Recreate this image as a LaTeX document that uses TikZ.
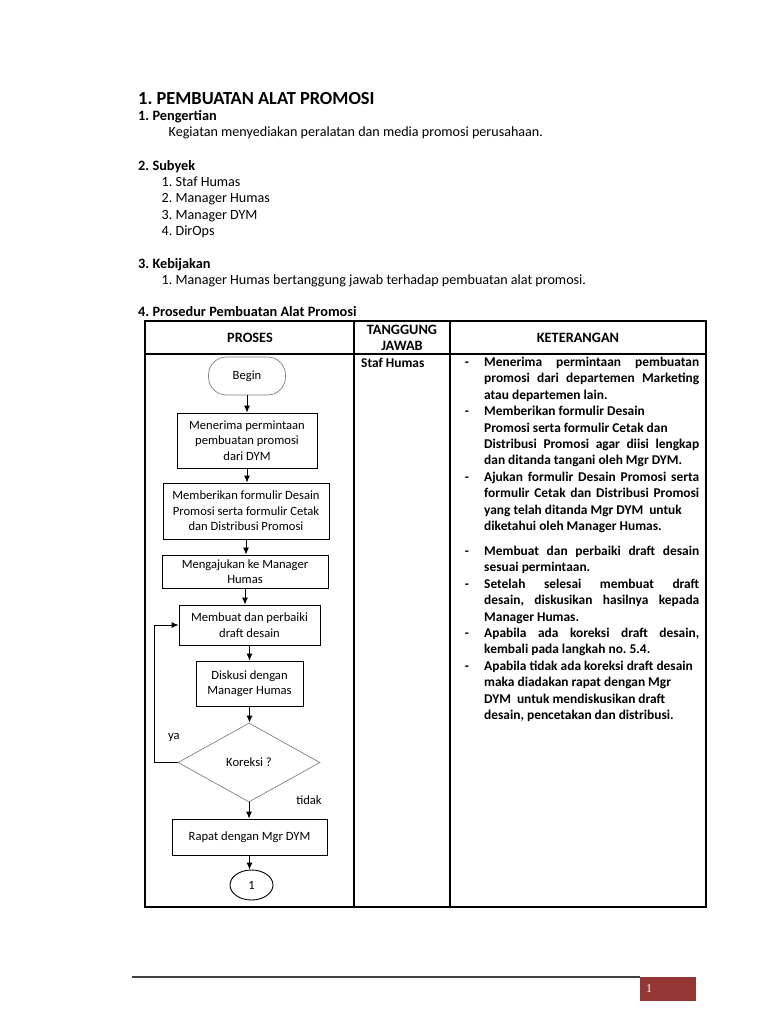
\documentclass[tikz,border=0pt]{standalone}
\usepackage{fontspec}
\setmainfont{Carlito}
\newfontfamily\pgnumfont{Liberation Serif}
\usetikzlibrary{arrows.meta,shapes.geometric}
\definecolor{pgred}{HTML}{943634}
\frenchspacing
\newcommand{\tsize}{\fontsize{18.4}{21}\selectfont}
\newcommand{\bsize}{\fontsize{14.3}{16.4}\selectfont}
\newcommand{\rsize}{\fontsize{14.1}{16.4}\selectfont}
\newcommand{\ksize}{\fontsize{13.4}{16.4}\selectfont}
\newcommand{\fsize}{\fontsize{12.6}{15.4}\selectfont}

\begin{document}
\begin{tikzpicture}[x=1pt,y=-1pt,
		>={Latex[length=7pt,width=6pt]},
		hd/.style={anchor=base west,inner sep=0pt,font=\bsize\bfseries},
		tx/.style={anchor=base west,inner sep=0pt,font=\rsize},
		th/.style={inner sep=0pt,align=center,font=\bsize\bfseries},
		ket/.style={anchor=base west,inner sep=0pt,text width=215pt,align=justify,font=\ksize\bfseries},
		dsh/.style={anchor=base,inner sep=0pt,font=\ksize\bfseries},
		proc/.style={draw=black,line width=0.9pt,align=center,inner sep=0pt,font=\fsize},
		flow/.style={->,line width=0.9pt},
		tbl/.style={line width=1.1pt}
	]
		\useasboundingbox (0,0) rectangle (768,1024);
		% heading and sections
		\node[anchor=base west,inner sep=0pt,font=\tsize\bfseries] (title) at (138,105) {1. PEMBUATAN ALAT PROMOSI};
		\node[hd] (s1) at (138,121) {1. Pengertian};
		\node[tx] (s1a) at (168.5,137) {Kegiatan menyediakan peralatan dan media promosi perusahaan.};
		\node[hd] (s2) at (138,170.5) {2. Subyek};
		\node[tx] (s2a) at (161.5,186.5) {1. Staf Humas};
		\node[tx] (s2b) at (161.5,202.8) {2. Manager Humas};
		\node[tx] (s2c) at (161.5,219) {3. Manager DYM};
		\node[tx] (s2d) at (161.5,235.3) {4. DirOps};
		\node[hd] (s3) at (138,268) {3. Kebijakan};
		\node[tx] (s3a) at (161.5,284.3) {1. Manager Humas bertanggung jawab terhadap pembuatan alat promosi.};
		\node[hd] (s4) at (138,316.5) {4. Prosedur Pembuatan Alat Promosi};

		% table
		\draw[tbl] (145,321) rectangle (706,907);
		\draw[tbl] (145,354) -- (706,354);
		\draw[tbl] (354,321) -- (354,907);
		\draw[tbl] (450,321) -- (450,907);
		\node[th] (hproc) at (250,338) {PROSES};
		\node[th] (hjwb) at (402,338) {TANGGUNG\\JAWAB};
		\node[th] (hket) at (578,338) {KETERANGAN};
		\node[hd,font=\ksize\bfseries] (staf) at (361,367.5) {Staf Humas};

		% keterangan
		\foreach \y [count=\i] in {366.5,415.7,481.3,555.5,588.3,637.5,670.3}
			\node[dsh] (d\i) at (467,\y) {-};
		\node[ket] (k1) at (484,366.5) {Menerima permintaan pembuatan\linebreak
			promosi dari departemen Marketing\linebreak atau departemen lain.};
		\node[ket] (k2) at (484,415.7) {Memberikan formulir Desain\newline
			Promosi serta formulir Cetak dan\newline
			Distribusi Promosi agar diisi lengkap\linebreak
			dan ditanda tangani oleh Mgr DYM.};
		\node[ket] (k3) at (484,481.3) {Ajukan formulir Desain Promosi serta\linebreak
			formulir Cetak dan Distribusi Promosi\linebreak
			yang telah ditanda Mgr DYM\ \ untuk\newline
			diketahui oleh Manager Humas.};
		\node[ket] (k4) at (484,555.5) {Membuat dan perbaiki draft desain\linebreak sesuai permintaan.};
		\node[ket] (k5) at (484,588.3) {Setelah selesai membuat draft\linebreak
			desain, diskusikan hasilnya kepada\linebreak Manager Humas.};
		\node[ket] (k6) at (484,637.5) {Apabila ada koreksi draft desain,\linebreak
			kembali pada langkah no. 5.4.};
		\node[ket] (k7) at (484,670.3) {\mbox{Apabila tidak ada koreksi draft desain}\newline
			maka diadakan rapat dengan Mgr\newline
			DYM\ \ untuk mendiskusikan draft\newline
			desain, pencetakan dan distribusi.};

		% flowchart
		\node[proc,draw=gray,line width=0.7pt,rounded corners=18pt,minimum width=77,minimum height=38] (begin) at (247,376) {Begin};
		\node[proc,minimum width=140,minimum height=55] (b1) at (247,440.5) {Menerima permintaan\\pembuatan promosi\\dari DYM};
		\node[proc,minimum width=166,minimum height=56] (b2) at (246,511) {Memberikan formulir Desain\\Promosi serta formulir Cetak\\dan Distribusi Promosi};
		\node[proc,minimum width=166,minimum height=33] (b3) at (245,571.5) {Mengajukan ke Manager\\Humas};
		\node[proc,minimum width=141,minimum height=40] (b4) at (249.5,625) {Membuat dan perbaiki\\draft desain};
		\node[proc,minimum width=107,minimum height=45] (b5) at (249.5,683.5) {Diskusi dengan\\Manager Humas};
		\node[proc,diamond,aspect=1.8,draw=gray,line width=0.7pt,minimum width=142,minimum height=79] (dec) at (249,762.5) {Koreksi ?};
		\node[proc,minimum width=155,minimum height=36] (b6) at (249.5,837) {Rapat dengan Mgr DYM};
		\node[proc,ellipse,minimum width=43,minimum height=30] (c1) at (251.5,885) {1};
		\node[font=\fsize,inner sep=0pt] (ya) at (174,737) {ya};
		\node[font=\fsize,inner sep=0pt] (tidak) at (309,800) {tidak};
		\foreach \a/\b in {begin/b1,b1/b2,b2/b3,b3/b4,b4/b5,b5/dec,dec/b6,b6/c1}
			\draw[flow] (\a.south) -- (\a.south |- \b.north);
		\draw[flow] (dec.west) -- ++(-23,0) |- (b4.west);

		% footer
		\draw[line width=1.5pt,draw=black!75] (132,977) -- (640,977);
		\node[fill=pgred,minimum width=56,minimum height=24,inner sep=0pt,anchor=north west] (pg) at (640,977) {};
		\node[text=white,inner sep=0pt,font=\pgnumfont\fontsize{12}{14}\selectfont] (pgnum) at (649,989) {1};
	\end{tikzpicture}
\end{document}
